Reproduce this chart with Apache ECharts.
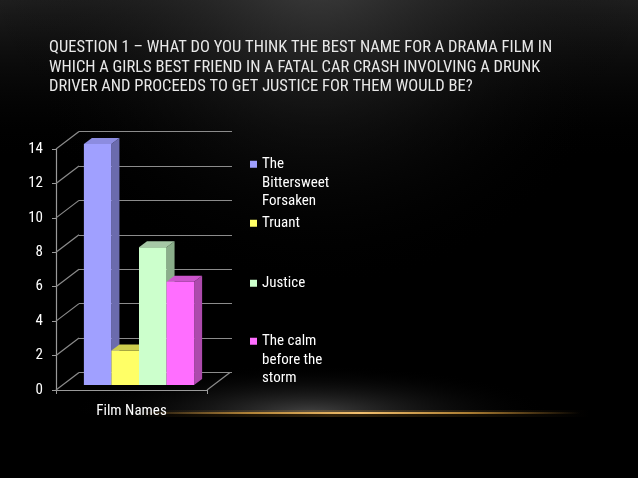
<!DOCTYPE html>
<html><head><meta charset="utf-8">
<script src="https://cdn.jsdelivr.net/npm/echarts@6/dist/echarts.min.js"></script>
<style>html,body{margin:0;padding:0;background:#000;}#c{width:638px;height:478px;}</style>
</head><body><div id="c"></div>
<script>
const titleLines = [
  'QUESTION 1 \u2013 WHAT DO YOU THINK THE BEST NAME FOR A DRAMA FILM IN',
  'WHICH A GIRLS BEST FRIEND IN A FATAL CAR CRASH INVOLVING A DRUNK',
  'DRIVER AND PROCEEDS TO GET JUSTICE FOR THEM WOULD BE?'
];
const categories = ['Film Names'];
const seriesNames = ['The Bittersweet Forsaken', 'Truant', 'Justice', 'The calm before the storm'];
const seriesValues = [14, 2, 8, 6];
const legendLabels = ['The\nBittersweet\nForsaken', 'Truant', 'Justice', 'The calm\nbefore the\nstorm'];
const yTicks = [0, 2, 4, 6, 8, 10, 12, 14];

const FONT = "'Roboto Condensed', 'Liberation Sans', Arial, sans-serif";
const frontColors = ['#a0a0ff', '#ffff66', '#ccffcc', '#ff6eff'];
const sideColors = ['#6b6bad', '#adad45', '#8aae8a', '#ad4aad'];
const topColors = ['#8c8ce0', '#cccc4c', '#a6c8a6', '#cc55cc'];
const WALL_DX = 23, WALL_DY = -17.5;
const BAR_SHIFT_X = 7.5, BAR_SHIFT_Y = -5;
const BAR_DX = 8, BAR_DY = -6;

const chart = echarts.init(document.getElementById('c'));

function barRenderer(k) {
  return function (params, api) {
    const cat = api.value(0);
    const v = api.value(1);
    const c = api.coord([cat, v]);
    const base = api.coord([cat, 0]);
    const band = api.size([1, 0])[0];
    const groupW = band * 0.73;
    const bw = groupW / seriesValues.length;
    const left = c[0] - groupW / 2 + BAR_SHIFT_X + k * bw;
    const top = c[1] + BAR_SHIFT_Y;
    const bottom = base[1] + BAR_SHIFT_Y;
    const r = left + bw;
    return {
      type: 'group',
      children: [
        { type: 'polygon', shape: { points: [[r, bottom], [r + BAR_DX, bottom + BAR_DY], [r + BAR_DX, top + BAR_DY], [r, top]] }, style: { fill: sideColors[k] } },
        { type: 'polygon', shape: { points: [[left, top], [left + BAR_DX, top + BAR_DY], [r + BAR_DX, top + BAR_DY], [r, top]] }, style: { fill: topColors[k] } },
        { type: 'rect', shape: { x: left, y: top, width: bw, height: bottom - top }, style: { fill: frontColors[k] } }
      ]
    };
  };
}

const legendTops = [118, 214, 274, 295];
const legendText = legendLabels.map(t => t.indexOf('\n') >= 0 ? '\n\n' + t : t);

const series = [
  {
    type: 'custom',
    name: 'wall-diagonals',
    xAxisIndex: 0, yAxisIndex: 0,
    clip: false, silent: true, z: 1,
    data: yTicks.map(v => [0, v]),
    renderItem: function (params, api) {
      const cs = params.coordSys;
      const p = api.coord([api.value(0), api.value(1)]);
      const children = [{ type: 'line', shape: { x1: cs.x, y1: p[1], x2: cs.x + WALL_DX, y2: p[1] + WALL_DY }, style: { stroke: '#8c8c8c', lineWidth: 1.2 } }];
      if (api.value(1) === 0) {
        children.push({ type: 'line', shape: { x1: cs.x + cs.width, y1: p[1], x2: cs.x + cs.width + WALL_DX, y2: p[1] + WALL_DY }, style: { stroke: '#8c8c8c', lineWidth: 1.2 } });
      }
      return { type: 'group', children };
    }
  }
].concat(seriesNames.map((n, k) => ({
  type: 'custom',
  name: n,
  xAxisIndex: 0, yAxisIndex: 0,
  clip: false, z: 5,
  itemStyle: { color: frontColors[k] },
  data: [[0, seriesValues[k]]],
  renderItem: barRenderer(k)
})));

chart.setOption({
  backgroundColor: '#000',
  animation: false,
  title: {
    text: titleLines.join('\n'),
    left: 49, top: 38.5, padding: 0,
    textStyle: { color: '#e8e8e8', fontSize: 16.5, fontWeight: 'normal', lineHeight: 19.3, fontFamily: FONT }
  },
  graphic: [
    { type: 'rect', z: -20, silent: true, shape: { x: 0, y: 0, width: 638, height: 478 }, style: { fill: '#000' } },
    { type: 'rect', z: -19, silent: true, shape: { x: 0, y: 0, width: 638, height: 160 },
      style: { fill: { type: 'linear', x: 0, y: 0, x2: 0, y2: 1, colorStops: [{ offset: 0, color: '#1f1f1f' }, { offset: 1, color: 'rgba(0,0,0,0)' }] } } },
    { type: 'rect', z: -18, silent: true, shape: { x: 0, y: 0, width: 638, height: 478 },
      style: { fill: { type: 'radial', x: 319, y: -40, r: 330, global: true, colorStops: [{ offset: 0, color: 'rgba(70,70,70,0.8)' }, { offset: 1, color: 'rgba(0,0,0,0)' }] } } },
    { type: 'circle', z: -17, silent: true, x: 310, y: 413, scaleX: 5, scaleY: 1, shape: { cx: 0, cy: 0, r: 48 },
      style: { fill: { type: 'radial', x: 0.5, y: 0.5, r: 0.5, colorStops: [{ offset: 0, color: 'rgba(90,90,90,0.75)' }, { offset: 1, color: 'rgba(0,0,0,0)' }] } } },
    { type: 'rect', z: -16, silent: true, shape: { x: 0, y: 414, width: 638, height: 64 }, style: { fill: '#000' } },
    { type: 'rect', z: -15, silent: true, shape: { x: 120, y: 410, width: 470, height: 7 },
      style: { fill: { type: 'linear', x: 0, y: 0, x2: 1, y2: 0, colorStops: [{ offset: 0, color: 'rgba(200,140,50,0)' }, { offset: 0.45, color: 'rgba(200,140,50,0.25)' }, { offset: 1, color: 'rgba(200,140,50,0)' }] } } },
    { type: 'rect', z: -14, silent: true, shape: { x: 140, y: 412, width: 440, height: 2 },
      style: { fill: { type: 'linear', x: 0, y: 0, x2: 1, y2: 0, colorStops: [{ offset: 0, color: 'rgba(200,140,50,0)' }, { offset: 0.25, color: 'rgba(205,150,60,0.8)' }, { offset: 0.5, color: '#f2c070' }, { offset: 0.75, color: 'rgba(205,150,60,0.8)' }, { offset: 1, color: 'rgba(200,140,50,0)' }] } } }
  ],
  legend: seriesNames.map((n, i) => ({
    data: [n],
    orient: 'vertical',
    left: 250, top: legendTops[i],
    padding: 0, itemGap: 0,
    itemWidth: 7, itemHeight: 7,
    icon: 'rect',
    selectedMode: false,
    formatter: () => legendText[i],
    textStyle: { color: '#ffffff', fontSize: 15, lineHeight: 18.5, fontFamily: FONT }
  })),
  grid: [
    { left: 56, top: 149, width: 151, height: 241 },
    { left: 56 + WALL_DX, top: 149 + WALL_DY, width: 153, height: 241 }
  ],
  xAxis: [
    {
      type: 'category', gridIndex: 0, data: categories,
      axisLine: { show: true, lineStyle: { color: '#9a9a9a', width: 1.2 } },
      axisTick: { show: true, length: 4, lineStyle: { color: '#9a9a9a' } },
      axisLabel: { color: '#ffffff', fontSize: 15, margin: 14, fontFamily: FONT }
    },
    { type: 'category', gridIndex: 1, data: categories, show: false }
  ],
  yAxis: [
    {
      type: 'value', gridIndex: 0, min: 0, max: 14, interval: 2,
      axisLine: { show: true, lineStyle: { color: '#9a9a9a', width: 1.2 } },
      axisTick: { show: true, length: 4, lineStyle: { color: '#9a9a9a' } },
      axisLabel: { color: '#ffffff', fontSize: 15, margin: 13, fontFamily: FONT },
      splitLine: { show: false }
    },
    {
      type: 'value', gridIndex: 1, min: 0, max: 14, interval: 2,
      axisLine: { show: false }, axisTick: { show: false }, axisLabel: { show: false },
      splitLine: { show: true, lineStyle: { color: '#8c8c8c', width: 1.2 } }
    }
  ],
  series: series
});
</script></body></html>
